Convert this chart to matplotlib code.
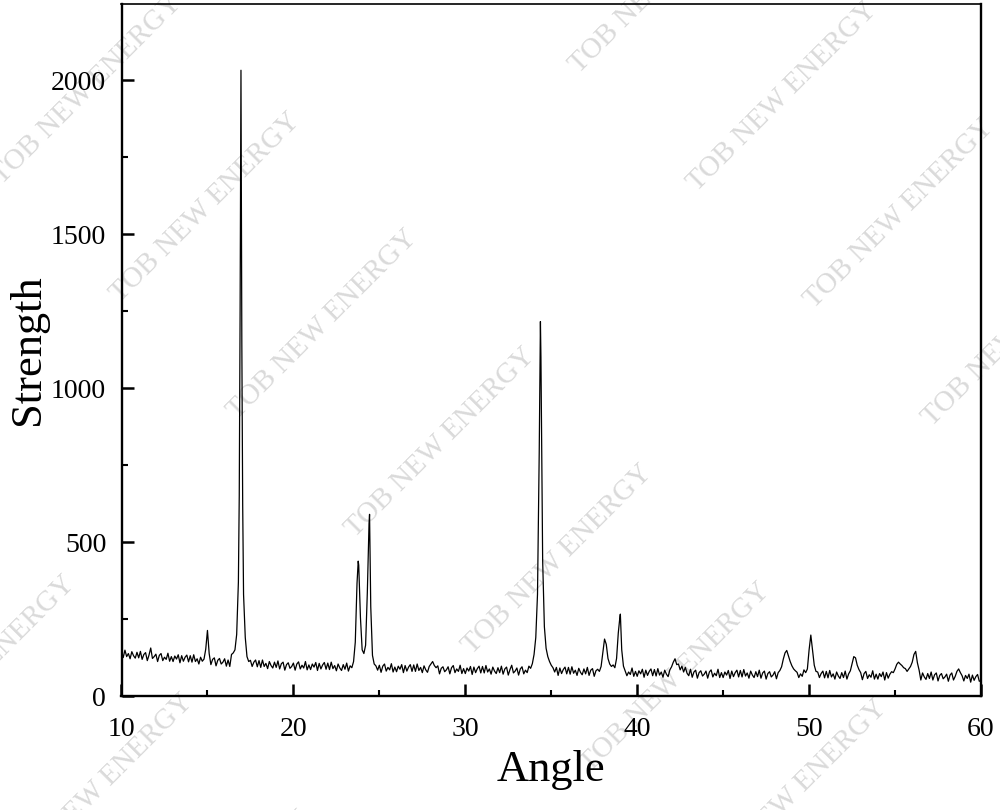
import numpy as np
import matplotlib
matplotlib.use("Agg")
import matplotlib.pyplot as plt
from matplotlib.ticker import MultipleLocator

# scan grid: 10.0 .. 60.0 deg, 0.1 deg step
angle = np.round(np.arange(10.0, 60.05, 0.1), 2)

# counts, one row per degree
counts_10_20 = [
    146, 125, 149, 128, 138, 121, 144, 131, 123, 142,
    124, 145, 119, 135, 141, 115, 133, 156, 122, 128,
    136, 112, 132, 138, 115, 126, 119, 139, 113, 128,
    112, 130, 120, 134, 108, 131, 113, 126, 133, 111,
    131, 110, 134, 112, 121, 104, 126, 113, 120, 152,
    213, 138, 102, 119, 124, 98, 116, 122, 104, 110,
    121, 97, 117, 96, 135, 140, 150, 200, 370, 1250,
    1150, 330, 190, 128, 112, 116, 96, 110, 117, 95,
    115, 93, 117, 96, 106, 89, 112, 99, 91, 110,
    93, 114, 88, 105, 110, 84, 102, 108, 90, 96,
]
counts_20_30 = [
    107, 84, 104, 111, 88, 100, 91, 112, 85, 101,
    86, 104, 94, 109, 83, 106, 88, 101, 109, 87,
    107, 86, 110, 89, 99, 82, 104, 91, 83, 102,
    87, 107, 81, 98, 92, 112, 175, 365, 425, 255,
    150, 138, 165, 335, 560, 290, 132, 104, 98, 84,
    100, 77, 97, 104, 81, 93, 85, 105, 78, 94,
    79, 97, 87, 102, 76, 99, 81, 94, 102, 80,
    101, 80, 104, 83, 93, 76, 98, 85, 77, 96,
    104, 112, 99, 92, 98, 72, 90, 95, 79, 85,
    95, 72, 92, 99, 76, 88, 80, 100, 73, 89,
]
counts_30_40 = [
    73, 91, 81, 96, 70, 94, 76, 89, 97, 75,
    96, 75, 99, 78, 88, 71, 94, 81, 73, 92,
    76, 97, 71, 88, 94, 68, 86, 100, 75, 81,
    91, 68, 88, 95, 72, 84, 76, 97, 90, 105,
    135, 190, 330, 790, 1100, 440, 225, 155, 128, 112,
    100, 92, 78, 93, 67, 91, 73, 86, 94, 72,
    93, 71, 95, 74, 84, 67, 90, 77, 69, 88,
    72, 93, 67, 84, 89, 64, 82, 87, 80, 96,
    140, 185, 168, 122, 104, 96, 101, 92, 122, 205,
    260, 150, 97, 82, 66, 78, 70, 91, 64, 80,
]
counts_40_50 = [
    64, 82, 72, 87, 61, 84, 67, 80, 88, 66,
    86, 65, 89, 68, 78, 61, 84, 71, 63, 85,
    95, 110, 121, 102, 104, 85, 97, 78, 93, 74,
    66, 87, 61, 78, 84, 58, 76, 82, 65, 71,
    81, 58, 78, 85, 62, 74, 66, 87, 60, 76,
    60, 78, 68, 83, 57, 81, 63, 76, 84, 62,
    83, 62, 86, 65, 75, 58, 81, 68, 60, 79,
    63, 84, 58, 75, 81, 55, 73, 79, 62, 68,
    79, 56, 76, 83, 95, 120, 140, 148, 130, 112,
    98, 88, 82, 77, 60, 72, 64, 85, 76, 88,
]
counts_50_60 = [
    150, 198, 148, 100, 80, 78, 60, 73, 81, 59,
    80, 59, 83, 62, 72, 55, 78, 65, 57, 76,
    60, 81, 55, 72, 82, 105, 128, 124, 100, 86,
    76, 53, 73, 80, 57, 69, 61, 82, 55, 71,
    55, 73, 63, 78, 52, 76, 58, 71, 79, 76,
    88, 103, 110, 104, 99, 92, 89, 80, 88, 96,
    110, 135, 145, 108, 84, 52, 75, 62, 54, 73,
    57, 78, 52, 69, 75, 49, 67, 73, 56, 62,
    71, 48, 68, 75, 52, 64, 80, 88, 76, 66,
    49, 67, 57, 71, 45, 68, 51, 63, 70, 48,
    50,
]

# peak tops that fall between scan steps
peak_angle = [16.85, 16.95, 17.05, 23.77, 24.43, 34.37, 39.02]
peak_counts = [650, 2032, 620, 438, 590, 1216, 266]

counts = counts_10_20 + counts_20_30 + counts_30_40 + counts_40_50 + counts_50_60
x = np.concatenate([angle, peak_angle])
y = np.concatenate([counts, peak_counts])
order = np.argsort(x)
x, y = x[order], y[order]

serif = ["Liberation Serif", "DejaVu Serif"]
plt.rcParams["font.family"] = serif

fig = plt.figure(figsize=(10, 8.1), dpi=100)
ax = fig.add_axes([0.1215, 0.1407, 0.8595, 0.8543])
ax.patch.set_alpha(0)

# watermark tiles
for i in range(-3, 10):
    for j in range(-2, 3):
        cx = 88 + i * 117.5 + j * 577
        cy = 90 + i * 117.5 - j * 111
        if -150 < cx < 1150 and -150 < cy < 960:
            fig.text(cx / 1000, 1 - cy / 810, "TOB NEW ENERGY",
                     rotation=45, rotation_mode="anchor",
                     ha="center", va="center", fontsize=21,
                     color="#dadada", zorder=-5)

ax.plot(x, y, color="black", lw=0.9)

ax.set_xlim(10, 60)
ax.set_ylim(0, 2247)
ax.xaxis.set_major_locator(MultipleLocator(10))
ax.xaxis.set_minor_locator(MultipleLocator(5))
ax.yaxis.set_major_locator(MultipleLocator(500))
ax.yaxis.set_minor_locator(MultipleLocator(250))
ax.tick_params(which="both", direction="in", top=False, right=False)
ax.tick_params(which="major", length=8.5, width=1.8, labelsize=20)
ax.tick_params(which="minor", length=4.2, width=1.5)
ax.tick_params(axis="x", which="major", pad=15)
ax.tick_params(axis="y", which="major", pad=11)

for side in ["left", "bottom", "right"]:
    ax.spines[side].set_linewidth(1.7)
ax.spines["top"].set_linewidth(1.2)

ax.set_xlabel("Angle", fontsize=32, labelpad=6)
ax.set_ylabel("Strength", fontsize=32, labelpad=2)

fig.savefig("out.png", dpi=100)
